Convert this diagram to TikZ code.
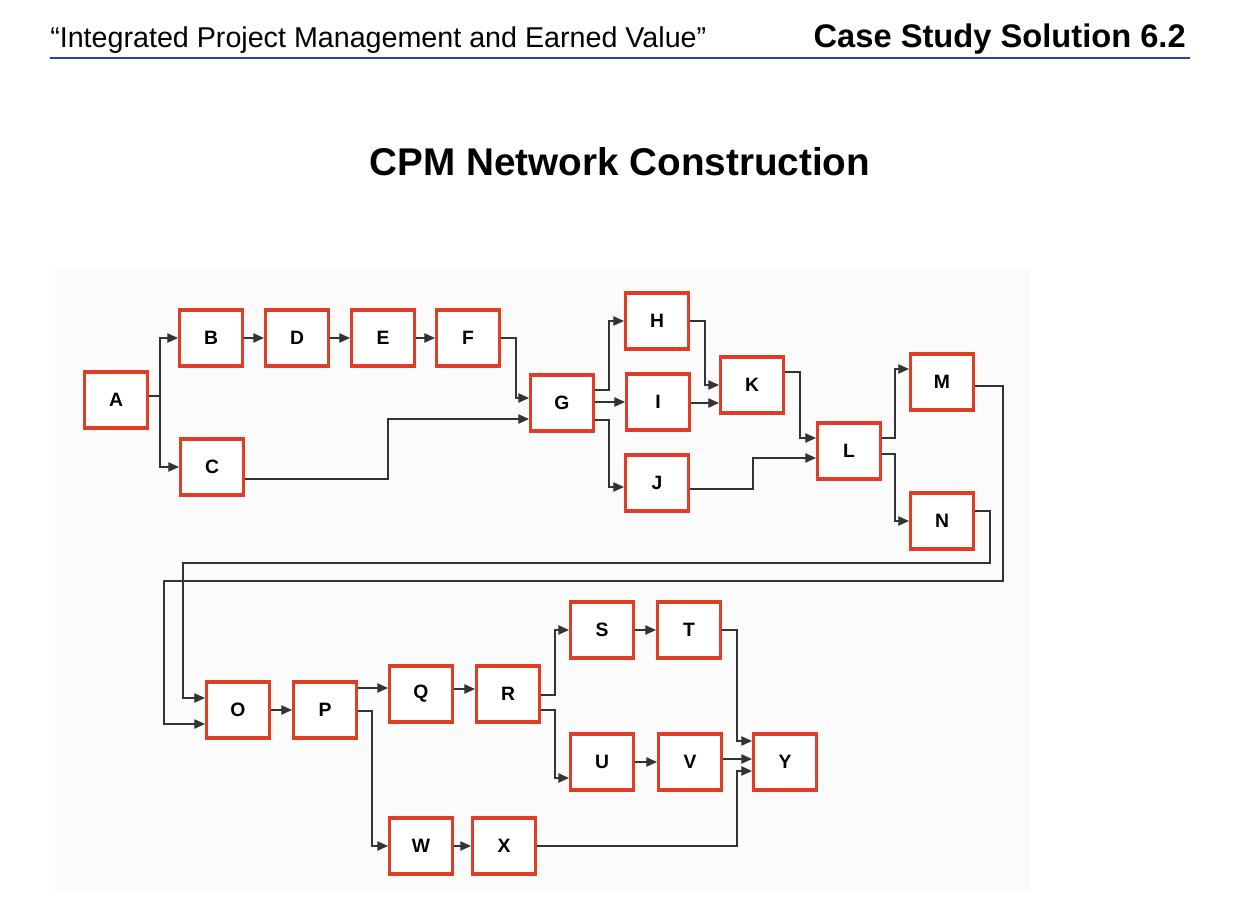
\documentclass[tikz,border=0pt]{standalone}
\usepackage{fontspec}
\setmainfont{Liberation Sans}
\usetikzlibrary{arrows.meta}
\definecolor{boxred}{RGB}{222,62,38}
\definecolor{hblue}{RGB}{30,70,160}
\definecolor{panel}{RGB}{251,251,251}
\begin{document}
\begin{tikzpicture}[x=0.75pt,y=-0.75pt,
  task/.style={draw=boxred,line width=2.5pt,fill=white,minimum width=47pt,minimum height=42pt,inner sep=0pt,font=\fontsize{14.5}{16}\selectfont\bfseries},
  arr/.style={draw=black!80,line width=0.9pt,-{Triangle[length=8pt,width=7pt]}},
  ln/.style={draw=black!80,line width=0.9pt}]
\useasboundingbox (0,0) rectangle (1234,916);
\fill[white] (0,0) rectangle (1234,916);
\fill[panel] (55,268) rectangle (1030,892);
\node[anchor=base west,font=\fontsize{21.5}{24}\selectfont,inner sep=0pt] (h1) at (50,48) {“Integrated Project Management and Earned Value”};
\node[anchor=base east,font=\fontsize{24.5}{27}\selectfont\bfseries,inner sep=0pt] (h2) at (1186,48) {Case Study Solution 6.2};
\draw[hblue,line width=2.2pt] (50,58) -- (1190,58);
\node[font=\fontsize{29}{32}\selectfont\bfseries] (title) at (620,162) {CPM Network Construction};

\node[task] (A) at (116,400) {A};
\node[task] (B) at (211,338) {B};
\node[task] (D) at (297,338) {D};
\node[task] (E) at (383,338) {E};
\node[task] (F) at (468,338) {F};
\node[task] (C) at (212,467) {C};
\node[task] (G) at (562,403) {G};
\node[task] (H) at (657,321) {H};
\node[task] (I) at (658,402) {I};
\node[task] (J) at (657,483) {J};
\node[task] (K) at (752,385) {K};
\node[task] (L) at (849,451) {L};
\node[task] (M) at (942,382) {M};
\node[task] (N) at (942,521) {N};
\node[task] (O) at (238,710) {O};
\node[task] (P) at (325,710) {P};
\node[task] (Q) at (421,694) {Q};
\node[task] (R) at (508,694) {R};
\node[task] (S) at (602,630) {S};
\node[task] (T) at (689,630) {T};
\node[task] (U) at (602,762) {U};
\node[task] (V) at (690,762) {V};
\node[task] (Y) at (785,762) {Y};
\node[task] (W) at (421,846) {W};
\node[task] (X) at (504,846) {X};

\draw[arr] (A.east |- 0,396) -- (160,396) |- (B.west);
\draw[arr] (A.east |- 0,396) -- (160,396) |- (C.west);
\draw[arr] (B) -- (D);
\draw[arr] (D) -- (E);
\draw[arr] (E) -- (F);
\draw[arr] (F.east) -- (516,338) |- (G.west |- 0,398);
\draw[arr] (C.east |- 0,479) -- (388,479) |- (G.west |- 0,419);
\draw[arr] (G.east |- 0,390) -- (609,390) |- (H.west);
\draw[arr] (G.east |- 0,402) -- (I.west |- 0,402);
\draw[arr] (G.east |- 0,420) -- (609,420) |- (J.west |- 0,487);
\draw[arr] (H.east) -- (705,321) |- (K.west |- 0,385);
\draw[arr] (I.east |- 0,403) -- (K.west |- 0,403);
\draw[arr] (K.east |- 0,372) -- (800,372) |- (L.west |- 0,438);
\draw[arr] (J.east |- 0,489) -- (753,489) |- (L.west |- 0,458);
\draw[arr] (L.east |- 0,438) -- (895,438) |- (M.west |- 0,369);
\draw[arr] (L.east |- 0,454) -- (895,454) |- (N.west);
\draw[arr] (N.east |- 0,511) -- (990,511) -- (990,563) -- (183,563) |- (O.west |- 0,698);
\draw[arr] (M.east |- 0,386) -- (1003,386) -- (1003,581) -- (164,581) |- (O.west |- 0,724);
\draw[arr] (O) -- (P);
\draw[arr] (P.east |- 0,688) -- (Q.west |- 0,688);
\draw[arr] (Q.east |- 0,689) -- (R.west |- 0,689);
\draw[arr] (R.east |- 0,695) -- (555,695) |- (S.west);
\draw[arr] (R.east |- 0,710) -- (555,710) |- (U.west |- 0,778);
\draw[arr] (S) -- (T);
\draw[arr] (U) -- (V);
\draw[arr] (T.east) -- (737,630) |- (Y.west |- 0,741);
\draw[arr] (V.east |- 0,759) -- (Y.west |- 0,759);
\draw[arr] (X.east) -- (737,846) |- (Y.west |- 0,771);
\draw[arr] (P.east |- 0,711) -- (372,711) |- (W.west);
\draw[arr] (W) -- (X);
\end{tikzpicture}
\end{document}
